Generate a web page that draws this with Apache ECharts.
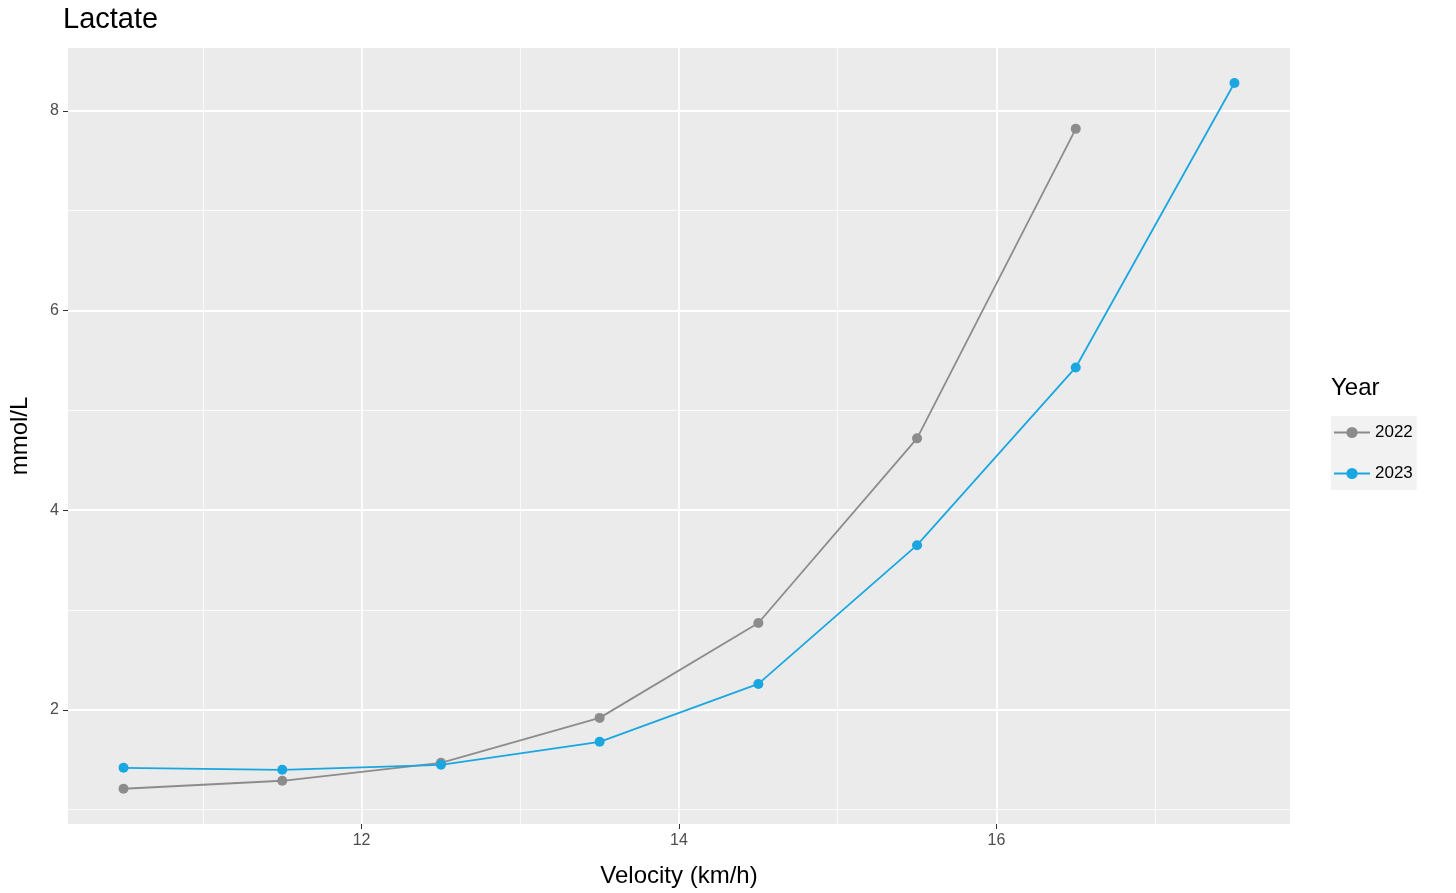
<!doctype html>
<html>
<head>
<meta charset="utf-8">
<script src="https://cdn.jsdelivr.net/npm/echarts@6/dist/echarts.min.js"></script>
<style>body{margin:0}#chart{width:1456px;height:893px}</style>
</head>
<body>
<div id="chart"></div>
<script>
var velocity2022 = [10.5, 11.5, 12.5, 13.5, 14.5, 15.5, 16.5];
var lactate2022 = [1.21, 1.29, 1.47, 1.92, 2.87, 4.72, 7.82];
var velocity2023 = [10.5, 11.5, 12.5, 13.5, 14.5, 15.5, 16.5, 17.5];
var lactate2023 = [1.42, 1.40, 1.45, 1.68, 2.26, 3.65, 5.43, 8.28];
var xMajor = [12, 14, 16], xMinor = [11, 13, 15, 17];
var yMajor = [2, 4, 6, 8], yMinor = [1, 3, 5, 7];

function pairs(xs, ys) { return xs.map(function (x, i) { return [x, ys[i]]; }); }
function gridLines(vals, key, w) {
    return vals.map(function (v) { var o = { lineStyle: { width: w } }; o[key] = v; return o; });
}

var chart = echarts.init(document.getElementById('chart'));
chart.setOption({
    animation: false,
    title: { text: 'Lactate', left: 58, top: 0, textStyle: { fontSize: 29, fontWeight: 'normal', color: '#000', fontFamily: 'Liberation Sans' } },
    grid: { left: 65, right: 166, top: 48, bottom: 69, show: true, backgroundColor: '#EBEBEB', borderWidth: 0 },
    xAxis: {
        type: 'value', min: 10.15, max: 17.85,
        name: 'Velocity (km/h)', nameLocation: 'middle', nameGap: 40,
        nameTextStyle: { fontSize: 24, color: '#000', fontFamily: 'Liberation Sans' },
        axisLine: { show: false }, splitLine: { show: false },
        axisTick: { show: true, customValues: xMajor, length: 5, lineStyle: { color: '#333' } },
        axisLabel: { customValues: xMajor, margin: 9, color: '#4D4D4D', fontSize: 16, fontFamily: 'Liberation Sans' }
    },
    yAxis: {
        type: 'value', min: 0.857, max: 8.63,
        name: 'mmol/L', nameLocation: 'middle', nameGap: 36,
        nameTextStyle: { fontSize: 24, color: '#000', fontFamily: 'Liberation Sans' },
        axisLine: { show: false }, splitLine: { show: false },
        axisTick: { show: true, customValues: yMajor, length: 5, lineStyle: { color: '#333' } },
        axisLabel: { customValues: yMajor, margin: 9, color: '#4D4D4D', fontSize: 16, fontFamily: 'Liberation Sans' }
    },
    legend: {
        orient: 'vertical', left: 1331, top: 416, itemGap: 24,
        backgroundColor: '#F2F2F2', padding: [8, 4, 8, 2],
        itemWidth: 36, itemHeight: 14,
        textStyle: { fontSize: 17, color: '#000', fontFamily: 'Liberation Sans' },
        data: ['2022', '2023']
    },
    graphic: [{ type: 'text', left: 1331, top: 376, style: { text: 'Year', fontSize: 24, fill: '#000', fontFamily: 'Liberation Sans' } }],
    series: [
        {
            type: 'line', data: [], z: 1, silent: true,
            markLine: {
                silent: true, symbol: 'none', label: { show: false },
                lineStyle: { color: '#fff', type: 'solid' },
                data: [].concat(gridLines(xMinor, 'xAxis', 0.8), gridLines(yMinor, 'yAxis', 0.8),
                    gridLines(xMajor, 'xAxis', 1.8), gridLines(yMajor, 'yAxis', 1.8))
            }
        },
        { name: '2022', type: 'line', zlevel: 1, data: pairs(velocity2022, lactate2022), color: '#8C8C8C',
          symbol: 'circle', symbolSize: 10, lineStyle: { width: 1.8 } },
        { name: '2023', type: 'line', zlevel: 1, data: pairs(velocity2023, lactate2023), color: '#1AA7E0',
          symbol: 'circle', symbolSize: 10, lineStyle: { width: 1.8 } }
    ]
});
</script>
</body>
</html>
